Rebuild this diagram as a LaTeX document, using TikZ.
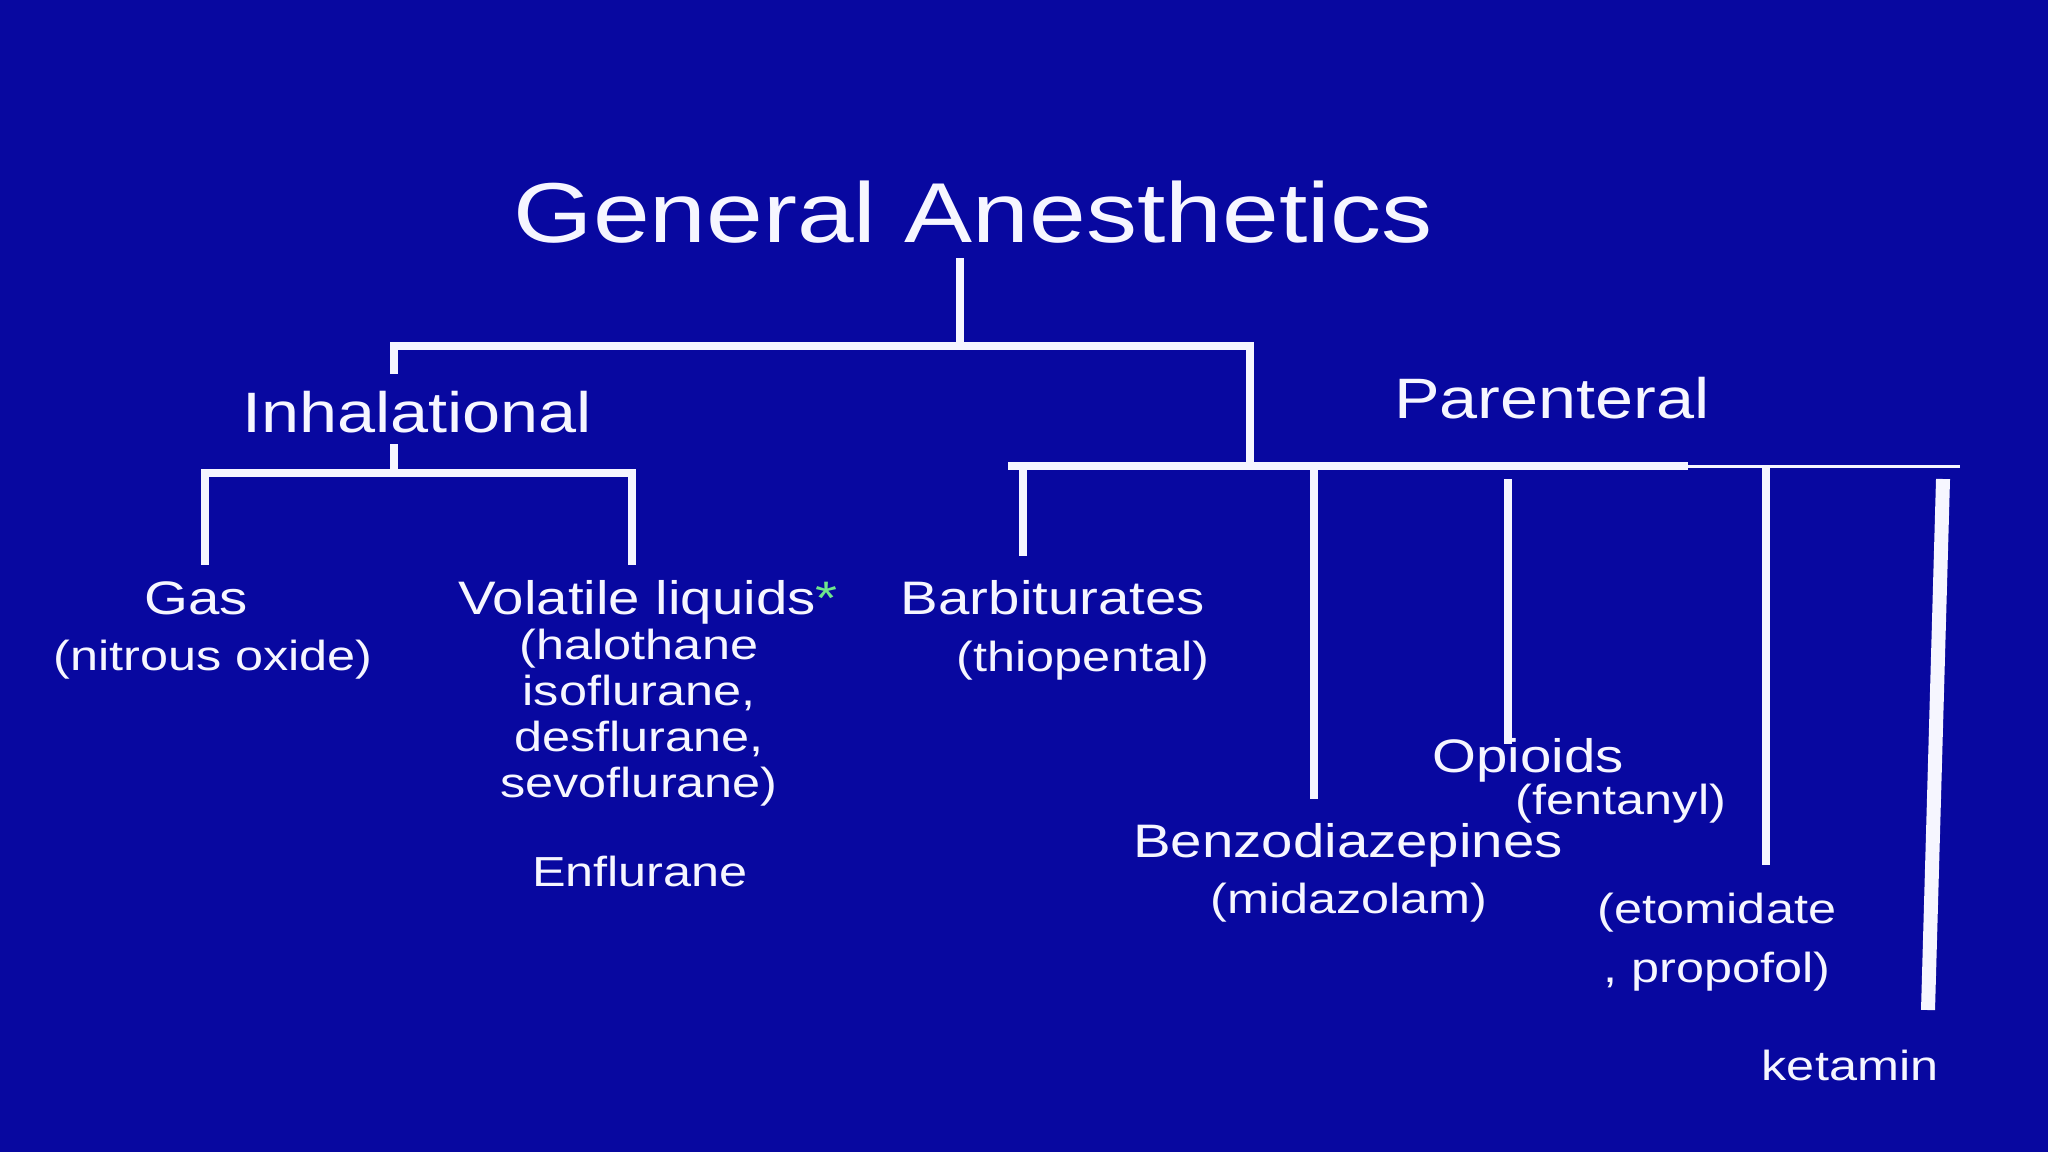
\documentclass[tikz,border=0pt]{standalone}
\usepackage{fontspec}
\setmainfont{Liberation Sans}[FakeStretch=1.2]
\definecolor{bg}{RGB}{8,8,160}
\definecolor{fg}{RGB}{246,246,255}
\definecolor{star}{RGB}{110,230,140}
\newcommand\fTitle{\fontsize{42.5}{47}\selectfont}
\newcommand\fMid{\fontsize{28.5}{32}\selectfont}
\newcommand\fCat{\fontsize{23.5}{26}\selectfont}
\newcommand\fSub{\fontsize{21}{23}\selectfont}
\begin{document}
\begin{tikzpicture}[x=0.5pt,y=-0.5pt,
  lbl/.style={text=fg,inner sep=0pt,anchor=base},
  title/.style={lbl,font=\fTitle},
  midlbl/.style={lbl,font=\fMid},
  catlbl/.style={lbl,font=\fCat},
  sublbl/.style={lbl,font=\fSub},
  branch/.style={draw=fg,line width=4pt,line cap=rect,line join=miter},
  thin/.style={draw=fg,line width=1.5pt},
  heavy/.style={draw=fg,line width=7pt}]
\fill[bg] (0,0) rectangle (2048,1152);
\useasboundingbox (0,0) rectangle (2048,1152);

% texts
\node[title] (T) at (973,242) {General Anesthetics};
\node[midlbl] (I) at (417,432) {Inhalational};
\node[midlbl] (P) at (1552,418) {Parenteral};
\node[catlbl] (gas) at (196,614) {Gas};
\node[sublbl] (gasx) at (213,670) {(nitrous oxide)};
\node[catlbl,anchor=base west] (vol) at (458,614) {Volatile liquids\textcolor{star}{*}};
\node[sublbl,align=center] (volx) at (639,797) {(halothane\\isoflurane,\\desflurane,\\sevoflurane)};
\node[sublbl] (enf) at (640,886) {Enflurane};
\node[catlbl] (barb) at (1053,614) {Barbiturates};
\node[sublbl] (barbx) at (1083,671) {(thiopental)};
\node[catlbl] (opi) at (1528,772) {Opioids};
\node[sublbl] (opix) at (1621,814) {(fentanyl)};
\node[catlbl] (benz) at (1348,857) {Benzodiazepines};
\node[sublbl] (benzx) at (1349,913) {(midazolam)};
\node[lbl,font=\fontsize{21}{29.5}\selectfont,align=center] (eto) at (1717,982) {(etomidate\\, propofol)};
\node[sublbl] (ket) at (1850,1080) {ketamin};

% junction coordinates
\coordinate (tStem) at (960,262);
\coordinate (tJ) at (960,346);
\coordinate (iTop) at (394,370);
\coordinate (jL) at (394,346);
\coordinate (jR) at (1250,346);
\coordinate (pJ) at (1250,466);
\coordinate (iStem) at (394,448);
\coordinate (iJ) at (394,473);
\coordinate (gasT) at (205,561);
\coordinate (gasJ) at (205,473);
\coordinate (volJ) at (632,473);
\coordinate (volT) at (632,561);
\coordinate (pL) at (1008,466);
\coordinate (pM) at (1688,466);
\coordinate (pE) at (1960,466);
\coordinate (barbJ) at (1023,466);
\coordinate (barbT) at (1023,556);
\coordinate (benzJ) at (1314,466);
\coordinate (benzT) at (1314,799);
\coordinate (opiA) at (1508,479);
\coordinate (opiT) at (1508,744);
\coordinate (etoJ) at (1766,466);
\coordinate (etoT) at (1766,865);
\coordinate (ketA) at (1943,479);
\coordinate (ketT) at (1928,1010);

% connectors
\draw[branch] (tStem) -- (tJ);
\draw[branch] (iTop) -- (jL) -- (jR) -- (pJ);
\draw[branch] (iStem) -- (iJ);
\draw[branch] (gasT) -- (gasJ) -- (volJ) -- (volT);
\draw[branch,line cap=butt] (pL) -- (pM);
\draw[thin] (pM) -- (pE);
\draw[branch,line cap=butt] (barbJ) -- (barbT);
\draw[branch,line cap=butt] (benzJ) -- (benzT);
\draw[branch,line cap=butt] (opiA) -- (opiT);
\draw[branch,line cap=butt] (etoJ) -- (etoT);
\draw[heavy] (ketA) -- (ketT);
\end{tikzpicture}
\end{document}
